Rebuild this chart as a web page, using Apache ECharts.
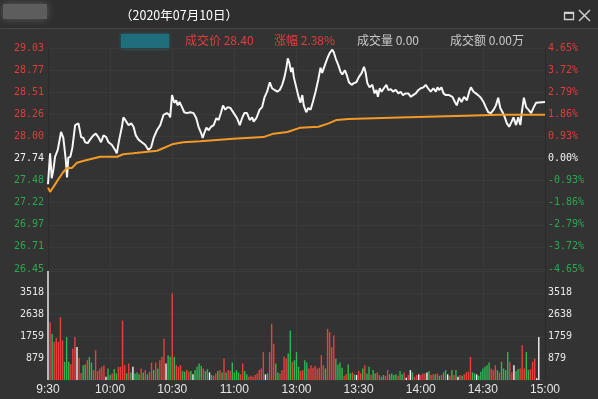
<!DOCTYPE html>
<html>
<head>
<meta charset="utf-8">
<script src="https://cdn.jsdelivr.net/npm/echarts@6/dist/echarts.min.js"></script>
<style>
html, body { margin: 0; padding: 0; background: #333; }
#main { width: 598px; height: 399px; }
</style>
</head>
<body>
<div id="main"></div>
<script>
// 昨收价
const prevClose = 27.74;
const timeLabels = ['9:30', '10:00', '10:30', '11:00', '13:00', '13:30', '14:00', '14:30', '15:00'];

// 分时价格 (分钟序号, 价格)
const priceMinutes = [
    0, 1.0, 1.8, 2.6, 3.4, 4.7, 6.3, 7.4, 8.6, 9.2,
    9.8, 10.8, 11.8, 13.1, 14.7, 16.0, 17.1, 17.9, 19.2, 20.3,
    21.9, 23.1, 24.3, 25.6, 26.8, 28.1, 29.2, 30.8, 32.4, 33.2,
    34.4, 35.7, 36.4, 37.3, 38.1, 38.9, 40.2, 41.3, 42.4, 43.7,
    45.3, 46.9, 48.5, 49.8, 51.0, 52.6, 54.2, 55.8, 57.4, 58.5,
    59.0, 59.9, 60.3, 61.0, 61.9, 62.6, 63.5, 64.7, 65.8, 67.1,
    68.7, 70.3, 71.6, 72.7, 73.9, 74.7, 75.5, 76.5, 77.6, 78.7,
    80.0, 81.3, 82.4, 83.6, 84.5, 85.6, 86.8, 88.1, 89.7, 91.3,
    92.6, 93.7, 94.8, 96.1, 97.4, 98.6, 99.3, 100.6, 102.2, 103.4,
    104.5, 105.8, 107.1, 108.2, 109.4, 110.7, 111.9, 113.1, 114.2, 115.2,
    115.8, 116.5, 117.4, 118.1, 118.7, 120.0, 121.1, 121.9, 122.8, 123.5,
    124.7, 125.7, 126.8, 127.9, 129.2, 130.5, 131.6, 132.4, 133.7, 134.9,
    136.0, 137.3, 138.0, 138.9, 140.2, 141.3, 142.1, 143.4, 144.2, 145.3,
    146.6, 147.7, 148.9, 150.1, 151.5, 152.6, 153.4, 154.2, 155.3, 156.6,
    157.7, 158.6, 159.3, 160.2, 161.1, 162.2, 163.4, 164.3, 165.5, 166.6,
    167.9, 169.2, 170.3, 171.4, 172.7, 174.0, 175.2, 176.3, 177.6, 178.9,
    180.0, 181.3, 182.4, 183.5, 184.8, 186.1, 187.3, 188.1, 188.9, 190.0,
    191.0, 192.1, 193.7, 195.3, 196.5, 197.4, 198.5, 199.7, 200.9, 202.3,
    203.4, 204.2, 205.5, 206.6, 207.7, 209.0, 210.3, 211.4, 212.6, 213.9,
    215.2, 216.3, 217.4, 218.4, 219.5, 220.6, 221.6, 222.7, 223.9, 224.8,
    226.0, 227.1, 228.1, 228.8, 229.8, 230.9, 232.0, 233.3, 234.6, 235.7,
    240
];
const prices = [
    27.44, 27.80, 27.51, 27.61, 27.76, 27.84, 28.05, 27.98, 27.72, 27.52,
    27.75, 27.76, 27.87, 28.13, 28.15, 27.99, 27.98, 27.93, 27.92, 27.96,
    28.01, 28.03, 27.99, 27.93, 28.01, 27.99, 27.93, 27.90, 27.84, 27.80,
    27.96, 28.11, 28.22, 28.19, 28.21, 28.13, 28.15, 28.11, 28.01, 27.96,
    27.93, 27.90, 27.84, 27.87, 27.98, 28.07, 28.13, 28.25, 28.27, 28.25,
    28.22, 28.48, 28.50, 28.39, 28.42, 28.36, 28.40, 28.34, 28.28, 28.27,
    28.28, 28.27, 28.21, 28.11, 28.04, 27.98, 28.04, 28.10, 28.07, 28.11,
    28.13, 28.21, 28.19, 28.28, 28.36, 28.31, 28.34, 28.33, 28.27, 28.21,
    28.13, 28.21, 28.27, 28.27, 28.19, 28.22, 28.17, 28.21, 28.31, 28.34,
    28.45, 28.52, 28.63, 28.56, 28.54, 28.52, 28.54, 28.60, 28.69, 28.81,
    28.91, 28.86, 28.75, 28.80, 28.69, 28.56, 28.45, 28.39, 28.48, 28.36,
    28.28, 28.33, 28.31, 28.40, 28.52, 28.66, 28.80, 28.74, 28.83, 28.91,
    28.97, 29.01, 28.98, 28.91, 28.83, 28.75, 28.72, 28.77, 28.72, 28.63,
    28.60, 28.62, 28.63, 28.69, 28.74, 28.81, 28.74, 28.62, 28.57, 28.60,
    28.50, 28.54, 28.46, 28.56, 28.52, 28.56, 28.60, 28.54, 28.55, 28.52,
    28.54, 28.50, 28.52, 28.48, 28.50, 28.50, 28.46, 28.48, 28.50, 28.54,
    28.56, 28.57, 28.60, 28.56, 28.52, 28.56, 28.52, 28.57, 28.54, 28.57,
    28.50, 28.48, 28.48, 28.46, 28.40, 28.36, 28.45, 28.40, 28.46, 28.42,
    28.52, 28.57, 28.52, 28.50, 28.48, 28.45, 28.40, 28.34, 28.28, 28.27,
    28.31, 28.36, 28.45, 28.33, 28.28, 28.22, 28.15, 28.11, 28.17, 28.22,
    28.13, 28.22, 28.13, 28.28, 28.45, 28.34, 28.31, 28.27, 28.34, 28.39,
    28.40
];

// 均价线
const avgMinutes = [0, 1, 2.4, 4.8, 7.3, 9.2, 11.6, 14.0, 16.9, 25.2, 33.4, 36.3, 41.1, 52.7, 55.6, 60.5,
    65.3, 73.5, 89.5, 104.0, 108.9, 115.6, 121.9, 130.6, 135.5, 139.4, 145.2, 169.4, 201.8, 217.7, 240];
const avgPrices = [27.40, 27.35, 27.40, 27.49, 27.58, 27.63, 27.63, 27.69, 27.71, 27.76, 27.76, 27.79, 27.80, 27.83, 27.86, 27.91,
    27.93, 27.94, 27.97, 27.99, 28.03, 28.05, 28.10, 28.11, 28.15, 28.19, 28.20, 28.22, 28.24, 28.25, 28.25];

// 成交量 (每分钟)
const volumes = [
    4397,
    2333, 1867, 1533, 1693, 1533, 2533, 1600, 733, 1733, 733,
    640, 1267, 1733, 1333, 893, 280, 600, 627, 800, 933,
    707, 400, 1200, 360, 467, 533, 600, 133, 467, 200,
    267, 440, 267, 533, 533, 2400, 600, 267, 667, 307,
    533, 267, 307, 227, 467, 307, 400, 227, 333, 707,
    400, 707, 467, 800, 933, 1667, 667, 1000, 933, 3500,
    933, 600, 533, 600, 360, 333, 400, 333, 360, 227,
    400, 533, 667, 573, 467, 360, 440, 307, 200, 173,
    267, 360, 400, 307, 867, 307, 400, 360, 707, 307,
    400, 307, 227, 667, 360, 227, 133, 173, 133, 200,
    267, 400, 467, 1133, 227, 267, 1133, 2267, 1467, 667,
    307, 267, 400, 933, 867, 1067, 2000, 733, 800, 1133,
    533, 360, 400, 800, 707, 467, 600, 493, 573, 467,
    493, 1000, 600, 467, 2067, 1933, 1333, 1800, 867, 627,
    707, 493, 173, 227, 627, 267, 307, 227, 200, 360,
    267, 467, 600, 267, 533, 200, 400, 267, 307, 200,
    133, 200, 173, 400, 227, 267, 200, 227, 173, 360,
    227, 307, 93, 200, 400, 307, 133, 200, 227, 200,
    267, 267, 307, 360, 200, 227, 227, 267, 173, 200,
    307, 400, 227, 173, 400, 200, 400, 133, 200, 173,
    227, 307, 333, 933, 307, 267, 227, 173, 333, 467,
    533, 600, 707, 467, 400, 600, 400, 307, 733, 467,
    400, 1133, 733, 307, 600, 360, 440, 467, 1400, 467,
    1133, 400, 440, 733, 867, 67, 1733, 0, 0, 0
];
// 涨跌方向 r=涨 g=跌 w=平
const volDir = ('w' +
    'rgrrrrrggg rrrwrrggrg grrrrrrwgg rggrrrrgrg wgggrgrgrr ' +
    'grgrrrwggr grrrggrrgw ggggrggwgr rgrgrgrrgg ggrrggrrrr ' +
    'rrrrwgrrrg grrrrggrgg grrggrrrrr rrrgrrrrgg ggrrggrgwr ' +
    'rgrggrggrr ggrrggggrg grwrwgrrwr rrwgrrgrgr ggwrgrgwrg ' +
    'rrrrggwggg gggrrrgrgg ggrrwggrrr ggrrrwwwww').replace(/ /g, '').split('');

const RED = '#e23c3c';
const GREEN = '#2aa84f';
const WHITE = '#f2f2f2';
const gridColor = '#3a3a3a';
const barColors = { r: '#e8403c', g: '#2db850', w: '#f4f4f4' };

function toPct(p) {
    return (p - prevClose) / prevClose * 100;
}
function labelColor(v) {
    v = parseFloat(v);
    return v > 0.001 ? RED : (v < -0.001 ? GREEN : WHITE);
}

var myChart = echarts.init(document.getElementById('main'));

let option = {
    backgroundColor: '#333',
    animation: false,
    grid: [
        { left: 48, right: 53, top: 48, height: 221 },
        { left: 48, right: 53, top: 271, height: 109 }
    ],
    xAxis: [
        {
            gridIndex: 0, type: 'value', min: 0, max: 240, interval: 30,
            axisLabel: { show: false }, axisTick: { show: false }, axisLine: { show: false },
            splitLine: { lineStyle: { color: gridColor } }
        },
        {
            gridIndex: 1, type: 'value', min: 0, max: 240, interval: 30,
            axisLabel: {
                color: '#e6e6e6', fontFamily: 'Liberation Sans', fontSize: 12, margin: 4,
                formatter: function (v) { return timeLabels[Math.round(v / 30)]; }
            },
            axisTick: { show: false }, axisLine: { show: false },
            splitLine: { lineStyle: { color: gridColor } }
        }
    ],
    yAxis: [
        {
            gridIndex: 0, type: 'value', position: 'left', min: -4.65, max: 4.65, interval: 0.93,
            axisLine: { show: true, lineStyle: { color: '#2a2a2a' } }, axisTick: { show: false },
            splitLine: { lineStyle: { color: gridColor } },
            axisLabel: {
                fontFamily: 'DejaVu Sans Mono', fontSize: 10, margin: 4,
                color: labelColor,
                formatter: function (v) { return (prevClose * (1 + v / 100)).toFixed(2); }
            }
        },
        {
            gridIndex: 0, type: 'value', position: 'right', min: -4.65, max: 4.65, interval: 0.93,
            axisLine: { show: true, lineStyle: { color: '#2a2a2a' } }, axisTick: { show: false },
            splitLine: { show: false },
            axisLabel: {
                fontFamily: 'DejaVu Sans Mono', fontSize: 10, margin: 3,
                color: labelColor,
                formatter: function (v) { return (Math.abs(v) < 0.001 ? 0 : v).toFixed(2) + '%'; }
            }
        },
        {
            gridIndex: 1, type: 'value', position: 'left', min: 0, max: 4397.5, interval: 879.5,
            axisLine: { show: true, lineStyle: { color: '#2a2a2a' } }, axisTick: { show: false },
            splitLine: { lineStyle: { color: gridColor } },
            axisLabel: {
                fontFamily: 'DejaVu Sans Mono', fontSize: 10, margin: 4, color: '#e8e8e8',
                formatter: function (v) { return (v > 0 && v < 4397) ? String(Math.floor(v)) : ''; }
            }
        },
        {
            gridIndex: 1, type: 'value', position: 'right', min: 0, max: 4397.5, interval: 879.5,
            axisLine: { show: true, lineStyle: { color: '#2a2a2a' } }, axisTick: { show: false },
            splitLine: { show: false },
            axisLabel: {
                fontFamily: 'DejaVu Sans Mono', fontSize: 10, margin: 3, color: '#e8e8e8',
                formatter: function (v) { return (v > 0 && v < 4397) ? String(Math.floor(v)) : ''; }
            }
        }
    ],
    series: [
        {
            type: 'bar', xAxisIndex: 1, yAxisIndex: 2, barWidth: 1.4,
            data: volumes.map(function (v, i) {
                return { value: [i, v], itemStyle: { color: barColors[volDir[i]] } };
            })
        },
        {
            type: 'line', xAxisIndex: 0, yAxisIndex: 0, symbol: 'none', z: 3,
            lineStyle: { color: '#f6f6f6', width: 2 },
            data: priceMinutes.map(function (m, i) { return [m, toPct(prices[i])]; })
        },
        {
            type: 'line', xAxisIndex: 0, yAxisIndex: 0, symbol: 'none', z: 4,
            lineStyle: { color: '#f39a26', width: 2 },
            data: avgMinutes.map(function (m, i) { return [m, toPct(avgPrices[i])]; })
        }
    ],
    graphic: [
        { type: 'rect', shape: { x: 0, y: 0, width: 598, height: 28 }, style: { fill: '#2e2e2e' }, silent: true },
        { type: 'line', shape: { x1: 0, y1: 28.5, x2: 598, y2: 28.5 }, style: { stroke: '#474747', lineWidth: 1 }, silent: true },
        // 打码区域
        { type: 'rect', shape: { x: 3, y: 4, width: 44, height: 15 }, style: { fill: '#5d5d5d', shadowBlur: 8, shadowColor: '#5d5d5d' }, silent: true },
        { type: 'rect', shape: { x: 121, y: 34, width: 48, height: 15 }, style: { fill: '#1f6e7b', shadowBlur: 3, shadowColor: '#1f6e7b' }, silent: true },
        {
            type: 'text', silent: true,
            style: { x: 120, y: 15, text: '（2020年07月10日）', fill: '#ffffff', font: '12.5px "Noto Sans CJK SC"', verticalAlign: 'middle' }
        },
        {
            type: 'text', silent: true,
            style: { x: 185, y: 40, text: '成交价 28.40', fill: RED, font: '12px "Noto Sans CJK SC"', verticalAlign: 'middle' }
        },
        {
            type: 'text', silent: true,
            style: { x: 274, y: 40, text: '涨幅 2.38%', fill: RED, font: '12px "Noto Sans CJK SC"', verticalAlign: 'middle' }
        },
        {
            type: 'text', silent: true,
            style: { x: 357, y: 40, text: '成交量 0.00', fill: '#c8c8c8', font: '12px "Noto Sans CJK SC"', verticalAlign: 'middle' }
        },
        {
            type: 'text', silent: true,
            style: { x: 450, y: 40, text: '成交额 0.00万', fill: '#c8c8c8', font: '12px "Noto Sans CJK SC"', verticalAlign: 'middle' }
        },
        // 窗口按钮
        { type: 'rect', shape: { x: 564.5, y: 12.5, width: 9, height: 7 }, style: { fill: 'none', stroke: '#d0d0d0', lineWidth: 1.3 }, silent: true },
        { type: 'line', shape: { x1: 564.5, y1: 13, x2: 573.5, y2: 13 }, style: { stroke: '#d0d0d0', lineWidth: 2 }, silent: true },
        { type: 'line', shape: { x1: 579, y1: 10, x2: 590, y2: 21 }, style: { stroke: '#d0d0d0', lineWidth: 1.5 }, silent: true },
        { type: 'line', shape: { x1: 590, y1: 10, x2: 579, y2: 21 }, style: { stroke: '#d0d0d0', lineWidth: 1.5 }, silent: true }
    ]
};

myChart.setOption(option);
</script>
</body>
</html>
